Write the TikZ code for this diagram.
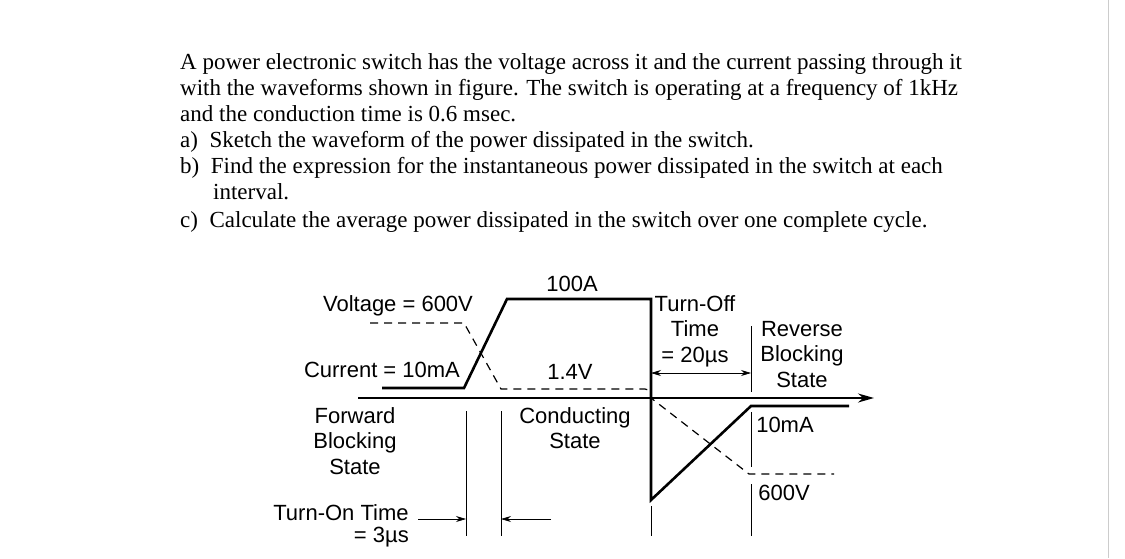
\documentclass[tikz,border=0pt]{standalone}
\usepackage{fontspec}
\setmainfont{Liberation Serif}
\newfontfamily\arialf{Liberation Sans}
\usetikzlibrary{arrows.meta}
\begin{document}
\begin{tikzpicture}[x=1pt,y=-1pt,
  q/.style={anchor=base west,inner sep=0pt,font=\fontsize{23}{24}\selectfont},
  lab/.style={inner sep=0pt,font=\arialf\fontsize{22}{25.5}\selectfont,align=center},
  wave/.style={line width=2.6pt},
  volt/.style={line width=1.2pt,dash pattern=on 8pt off 6pt},
  thin/.style={line width=0.7pt},
  arr/.style={thin,-{Stealth[length=10pt,width=6pt]}}]
\useasboundingbox (0,0) rectangle (1125,558);
\fill[white] (0,0) rectangle (1125,558);
\draw[gray!40] (1108,0) -- (1108,558);
% question text
\node[q] (l1) at (180,69) {A power electronic switch has the voltage across it and the current passing through it};
\node[q] (l2) at (180,95) {with the waveforms shown in figure. The switch is operating at a frequency of 1kHz};
\node[q] (l3) at (180,121) {and the conduction time is 0.6 msec.};
\node[q] (l4) at (180,147) {a)\ \ Sketch the waveform of the power dissipated in the switch.};
\node[q] (l5) at (180,173) {b)\ \ Find the expression for the instantaneous power dissipated in the switch at each};
\node[q] (l6) at (213,199) {interval.};
\node[q] (l7) at (180,227) {c)\ \ Calculate the average power dissipated in the switch over one complete cycle.};
% axis
\coordinate (a0) at (358,398); \coordinate (a1) at (874,398);
\draw[line width=2pt,-{Stealth[length=16pt,width=9pt]}] (a0) -- (a1);
% current
\coordinate (c1) at (382,388); \coordinate (c2) at (464,388); \coordinate (c3) at (507,299);
\coordinate (c4) at (651,299); \coordinate (c5) at (651,500); \coordinate (c6) at (751,406); \coordinate (c7) at (849,406);
\draw[wave] (c1) -- (c2) -- (c3) -- (c4) -- (c5) -- (c6) -- (c7);
% voltage
\coordinate (v1) at (370,323); \coordinate (v2) at (464,323); \coordinate (v3) at (501,389);
\coordinate (v4) at (645,389); \coordinate (v5) at (651,398); \coordinate (v6) at (749,474); \coordinate (v7) at (834,474);
\draw[volt] (v1) -- (v2) -- (v3) -- (v4) to[out=0,in=90] (v5) -- (v6) -- (v7);
% thin verticals
\coordinate (t1a) at (466,411); \coordinate (t1b) at (466,536);
\coordinate (t2a) at (501,411); \coordinate (t2b) at (501,536);
\coordinate (t3a) at (651,506); \coordinate (t3b) at (651,536);
\draw[thin] (t1a) -- (t1b) (t2a) -- (t2b) (t3a) -- (t3b);
\coordinate (r1) at (751,326); \coordinate (r2) at (751,392);
\coordinate (r3) at (751,412); \coordinate (r4) at (751,467);
\coordinate (r5) at (751,484); \coordinate (r6) at (751,536);
\draw[thin] (r1) -- (r2) (r3) -- (r4) (r5) -- (r6);
% arrows
\coordinate (off1) at (651,373); \coordinate (off2) at (751,373);
\draw[thin,{Stealth[length=10pt,width=6pt]}-{Stealth[length=10pt,width=6pt]}] (off1) -- (off2);
\coordinate (on1) at (418,519); \coordinate (on1e) at (466,519);
\coordinate (on2) at (551,519); \coordinate (on2e) at (501,519);
\draw[arr] (on1) -- (on1e);
\draw[arr] (on2) -- (on2e);
% labels
\node[lab] (tv) at (398,306) {Voltage = 600V};
\node[lab] (tc) at (382,370) {Current = 10mA};
\node[lab] (ta) at (572,284) {100A};
\node[lab] (tl) at (570,372) {1.4V};
\node[lab,anchor=north] (toff) at (695,295) {Turn-Off\\Time\\= 20µs};
\node[lab,anchor=north] (trev) at (802,321) {Reverse\\Blocking\\State};
\node[lab,anchor=north] (tfwd) at (355,407) {Forward\\Blocking\\State};
\node[lab,anchor=north] (tcon) at (575,407) {Conducting\\State};
\node[lab] (t10) at (785,425) {10mA};
\node[lab] (t600) at (784,493) {600V};
\node[lab] (ton) at (341,513) {Turn-On Time};
\node[lab,anchor=east] (t3) at (409,537) {= 3µs};
\end{tikzpicture}
\end{document}
